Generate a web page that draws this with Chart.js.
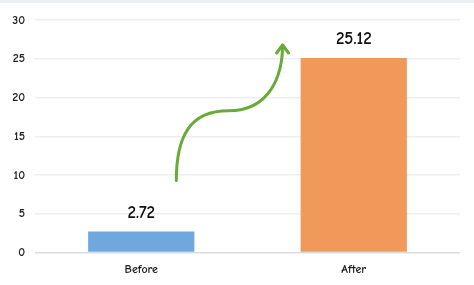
<!DOCTYPE html>
<html>
<head>
<meta charset="utf-8">
<script src="https://cdn.jsdelivr.net/npm/chart.js@4/dist/chart.umd.min.js"></script>
<style>
  html, body { margin: 0; padding: 0; background: #fff; }
  #wrap { width: 474px; height: 285px; border-top: 3px solid #eceef1; box-sizing: border-box; }
  canvas { display: block; }
</style>
</head>
<body>
<div id="wrap"><canvas id="barChart" width="474" height="282"></canvas></div>
<script>
// Chart data ----------
var categories = ["Before", "After"];
var values = [2.72, 25.12];
var barColors = ["#6fa8dc", "#f0995a"];
var yTicks = [0, 5, 10, 15, 20, 25, 30];

// Green arrow path, in data units (x = category index, y = value)
var arrowX = [0.165, 0.41, 0.665];
var arrowY = [9.3, 18.3, 26.8];

var handFont = "'Comic Sans MS', 'Comic Neue', 'DejaVu Sans', sans-serif";

// Draws the value above each bar
var valueLabels = {
    id: 'valueLabels',
    afterDatasetsDraw: function(chart) {
        var ctx = chart.ctx;
        var meta = chart.getDatasetMeta(0);
        ctx.save();
        ctx.fillStyle = "#111";
        ctx.font = "bold 17px " + handFont;
        ctx.textAlign = "center";
        ctx.textBaseline = "bottom";
        meta.data.forEach(function(bar, i) {
            ctx.fillText(values[i].toFixed(2), bar.x, bar.y - 10);
        });
        ctx.restore();
    }
};

// Draws the curved green arrow
var curvedArrow = {
    id: 'curvedArrow',
    afterDatasetsDraw: function(chart) {
        var ctx = chart.ctx;
        var xs = chart.scales.x, ys = chart.scales.y;
        var px = function(v) {
            var x0 = xs.getPixelForValue(0), x1 = xs.getPixelForValue(1);
            return x0 + (x1 - x0) * v;
        };
        var p0 = [px(arrowX[0]), ys.getPixelForValue(arrowY[0])];
        var p1 = [px(arrowX[1]), ys.getPixelForValue(arrowY[1])];
        var p2 = [px(arrowX[2]), ys.getPixelForValue(arrowY[2])];
        ctx.save();
        ctx.strokeStyle = "#6aaa3a";
        ctx.lineWidth = 3;
        ctx.lineCap = "round";
        ctx.lineJoin = "round";
        ctx.beginPath();
        ctx.moveTo(p0[0], p0[1]);
        ctx.bezierCurveTo(p0[0], p0[1] - 45, p1[0] - 38, p1[1], p1[0], p1[1]);
        ctx.bezierCurveTo(p1[0] + 42, p1[1], p2[0], p2[1] + 30, p2[0], p2[1]);
        ctx.stroke();
        // arrow head
        ctx.beginPath();
        ctx.moveTo(p2[0] - 6, p2[1] + 8);
        ctx.lineTo(p2[0], p2[1]);
        ctx.lineTo(p2[0] + 6, p2[1] + 8);
        ctx.stroke();
        ctx.restore();
    }
};

var ctx = document.getElementById("barChart").getContext("2d");

var myBarChart = new Chart(ctx, {
    type: 'bar',
    data: {
        labels: categories,
        datasets: [{
            data: values,
            backgroundColor: barColors,
            barPercentage: 1.0,
            categoryPercentage: 0.5
        }]
    },
    plugins: [valueLabels, curvedArrow],
    options: {
        responsive: false,
        animation: false,
        layout: { padding: { top: -3, right: 14, left: 6, bottom: 6 } },
        plugins: {
            legend: { display: false },
            tooltip: { enabled: false }
        },
        scales: {
            x: {
                grid: { display: false },
                border: { display: false },
                ticks: { color: "#222", font: { family: handFont, size: 12, weight: "bold" }, padding: 2 }
            },
            y: {
                min: 0,
                max: 30,
                afterBuildTicks: function(axis) {
                    axis.ticks = yTicks.map(function(v) { return { value: v }; });
                },
                afterFit: function(axis) { axis.width = 29; },
                grid: {
                    color: function(c) { return c.tick.value === 0 ? "#d9dbe0" : "#eceef1"; },
                    lineWidth: 1.5,
                    drawTicks: false
                },
                border: { display: false },
                ticks: { color: "#222", autoSkip: false, font: { family: handFont, size: 12, weight: "bold" }, padding: 10 }
            }
        }
    }
});
</script>
</body>
</html>
